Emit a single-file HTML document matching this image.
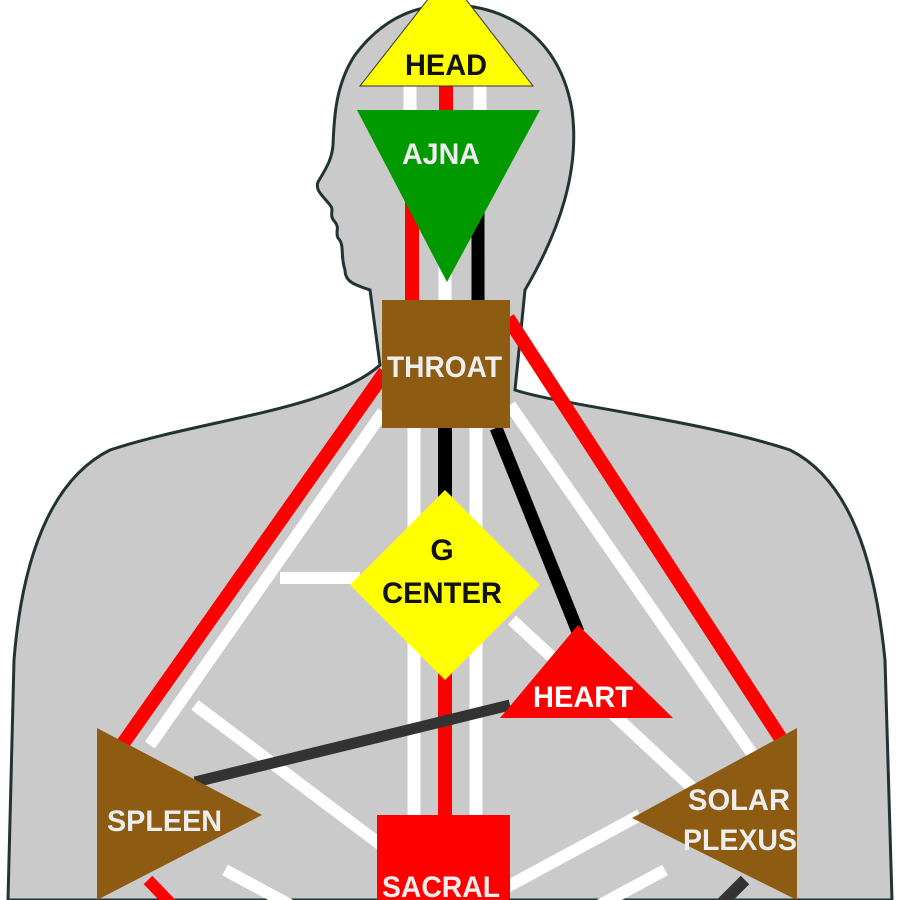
<!DOCTYPE html>
<html><head><meta charset="utf-8"><style>
html,body{margin:0;padding:0;background:#fff;width:900px;height:900px;overflow:hidden}
text{font-family:"Liberation Sans",sans-serif;font-weight:bold}
</style></head><body>
<svg width="900" height="900" viewBox="0 0 900 900" xmlns="http://www.w3.org/2000/svg">
<path d="M355,55 C385,15 420,5 450,5 C510,5 560,40 572,110 C580,170 560,230 525,290 L515,390 C560,405 700,420 790,450 C850,480 875,560 885,660 L892,900 L8,900 L14,660 C22,560 50,480 110,450 C200,420 330,410 380,365 L370,290 C355,285 345,282 345,270 C340,255 345,245 338,238 C335,232 340,228 335,222 C328,215 335,210 330,205 C322,195 315,190 318,182 C325,170 332,160 333,145 C334,120 335,85 355,55 Z" fill="#cacaca" stroke="#233" stroke-width="3"/>
<g stroke-linecap="butt">
<line x1="410" y1="85" x2="410" y2="112" stroke="#fff" stroke-width="13"/>
<line x1="480" y1="85" x2="480" y2="112" stroke="#fff" stroke-width="13"/>
<line x1="446" y1="85" x2="446" y2="112" stroke="#f00" stroke-width="14"/>
<line x1="412" y1="200" x2="412" y2="302" stroke="#f00" stroke-width="14"/>
<line x1="445" y1="200" x2="445" y2="302" stroke="#fff" stroke-width="13"/>
<line x1="478" y1="200" x2="478" y2="302" stroke="#000" stroke-width="13"/>
<line x1="385" y1="372" x2="122" y2="745" stroke="#f00" stroke-width="14"/>
<line x1="508" y1="318" x2="785" y2="745" stroke="#f00" stroke-width="14"/>
<line x1="383" y1="412" x2="150" y2="745" stroke="#fff" stroke-width="12"/>
<line x1="510" y1="405" x2="760" y2="765" stroke="#fff" stroke-width="12"/>
<line x1="280" y1="578" x2="360" y2="578" stroke="#fff" stroke-width="12"/>
<line x1="512" y1="620" x2="700" y2="795" stroke="#fff" stroke-width="12"/>
<line x1="195" y1="705" x2="385" y2="848" stroke="#fff" stroke-width="12"/>
<line x1="640" y1="815" x2="505" y2="888" stroke="#fff" stroke-width="12"/>
<line x1="225" y1="870" x2="290" y2="905" stroke="#fff" stroke-width="12"/>
<line x1="665" y1="870" x2="600" y2="905" stroke="#fff" stroke-width="12"/>
<line x1="148" y1="880" x2="172" y2="905" stroke="#f00" stroke-width="12"/>
<line x1="745" y1="880" x2="720" y2="905" stroke="#333" stroke-width="12"/>
<line x1="414" y1="428" x2="414" y2="820" stroke="#fff" stroke-width="13"/>
<line x1="476" y1="428" x2="476" y2="820" stroke="#fff" stroke-width="13"/>
<line x1="445" y1="428" x2="445" y2="505" stroke="#000" stroke-width="14"/>
<line x1="445" y1="670" x2="445" y2="820" stroke="#f00" stroke-width="14"/>
<line x1="496" y1="428" x2="578" y2="632" stroke="#000" stroke-width="13"/>
<line x1="510" y1="705" x2="195" y2="782" stroke="#333" stroke-width="11"/>
</g>
<polygon points="447,-25 533,86 360,86" fill="#ffff00" stroke="#333" stroke-width="1"/>
<text x="405" y="75" font-size="30" textLength="82" lengthAdjust="spacingAndGlyphs" fill="#111">HEAD</text>
<polygon points="357,110 540,110 447,282" fill="#009900"/>
<text x="402" y="164" font-size="30" textLength="78" lengthAdjust="spacingAndGlyphs" fill="#eee">AJNA</text>
<rect x="382" y="300" width="128" height="128" fill="#8d5c12"/>
<text x="387" y="377" font-size="30" textLength="115" lengthAdjust="spacingAndGlyphs" fill="#eee">THROAT</text>
<polygon points="445,490 540,585 445,680 350,585" fill="#ffff00"/>
<text x="442" y="560" font-size="30" text-anchor="middle" fill="#111">G</text>
<text x="382" y="603" font-size="30" textLength="120" lengthAdjust="spacingAndGlyphs" fill="#111">CENTER</text>
<polygon points="578,625 673,718 500,718" fill="#f00"/>
<text x="533" y="707" font-size="30" textLength="100" lengthAdjust="spacingAndGlyphs" fill="#fff">HEART</text>
<polygon points="97,728 262,815 97,900" fill="#8d5c12"/>
<text x="107" y="831" font-size="30" textLength="115" lengthAdjust="spacingAndGlyphs" fill="#eee">SPLEEN</text>
<polygon points="797,728 632,818 797,900" fill="#8d5c12"/>
<text x="688" y="810" font-size="30" textLength="102" lengthAdjust="spacingAndGlyphs" fill="#eee">SOLAR</text>
<text x="683" y="850" font-size="30" textLength="114" lengthAdjust="spacingAndGlyphs" fill="#eee">PLEXUS</text>
<rect x="377" y="815" width="133" height="90" fill="#f00"/>
<text x="382" y="897" font-size="30" textLength="118" lengthAdjust="spacingAndGlyphs" fill="#eee">SACRAL</text>
</svg>
</body></html>
